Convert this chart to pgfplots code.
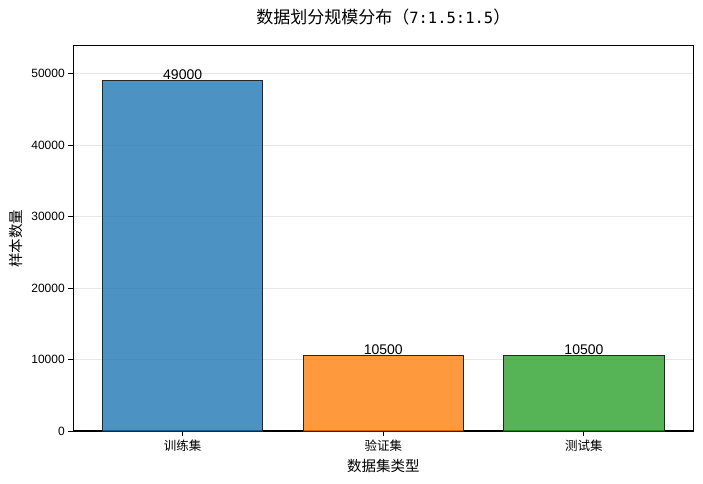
\documentclass[border=0pt]{standalone}
\usepackage{fontspec}
\usepackage{pgfplots}
\pgfplotsset{compat=1.18}
\setmainfont{Liberation Sans}
\newfontfamily\cjk{Noto Sans CJK SC}
\newfontfamily\monofont{DejaVu Sans Mono}

\definecolor{cblue}{HTML}{1F77B4}
\definecolor{corange}{HTML}{FF7F0E}
\definecolor{cgreen}{HTML}{2CA02C}
\definecolor{gridc}{HTML}{E7E7E7}

\begin{document}
\begin{tikzpicture}
  \useasboundingbox (0,0) rectangle (703pt,483pt);
  \begin{axis}[
      at={(73.3pt,52pt)}, anchor=south west,
      scale only axis,
      width=620pt, height=385.3pt,
      xmin=-0.545, xmax=2.545,
      ymin=0, ymax=53900,
      xtick={0,1,2},
      xticklabels={训练集,验证集,测试集},
      xticklabel style={font=\cjk\fontsize{12.5}{14}\selectfont},
      ytick={0,10000,20000,30000,40000,50000},
      yticklabels={0,10000,20000,30000,40000,50000},
      yticklabel style={font=\fontsize{12}{14}\selectfont},
      scaled y ticks=false,
      xtick pos=bottom, ytick pos=left,
      tick align=outside,
      major tick length=5pt,
      every tick/.style={black, line width=1pt},
      axis line style={line width=1.1pt},
      ymajorgrids=true,
      grid style={gridc, line width=0.9pt},
      point meta=explicit symbolic,
      nodes near coords,
      every node near coord/.append style={font=\fontsize{14}{16}\selectfont, black, fill opacity=1, text opacity=1, inner sep=1pt},
    ]
    % bars: train / validation / test
    \addplot[ybar, bar shift=0pt, bar width=0.8, fill=cblue, fill opacity=0.8, draw=black!85, line width=0.9pt]
      coordinates {(0,49000)[49000]};
    \addplot[ybar, bar shift=0pt, bar width=0.8, fill=corange, fill opacity=0.8, draw=black!85, line width=0.9pt]
      coordinates {(1,10500)[10500]};
    \addplot[ybar, bar shift=0pt, bar width=0.8, fill=cgreen, fill opacity=0.8, draw=black!85, line width=0.9pt]
      coordinates {(2,10500)[10500]};
  \end{axis}
  \node at (383.3pt,465.5pt) {\cjk\fontsize{17}{20}\selectfont 数据划分规模分布（{\monofont\fontsize{15.5}{20}\selectfont 7:1.5:1.5}）};
  \node at (383.3pt,17pt) {\cjk\fontsize{14.5}{17}\selectfont 数据集类型};
  \node[rotate=90] at (15.5pt,244.5pt) {\cjk\fontsize{14.5}{17}\selectfont 样本数量};
\end{tikzpicture}
\end{document}
